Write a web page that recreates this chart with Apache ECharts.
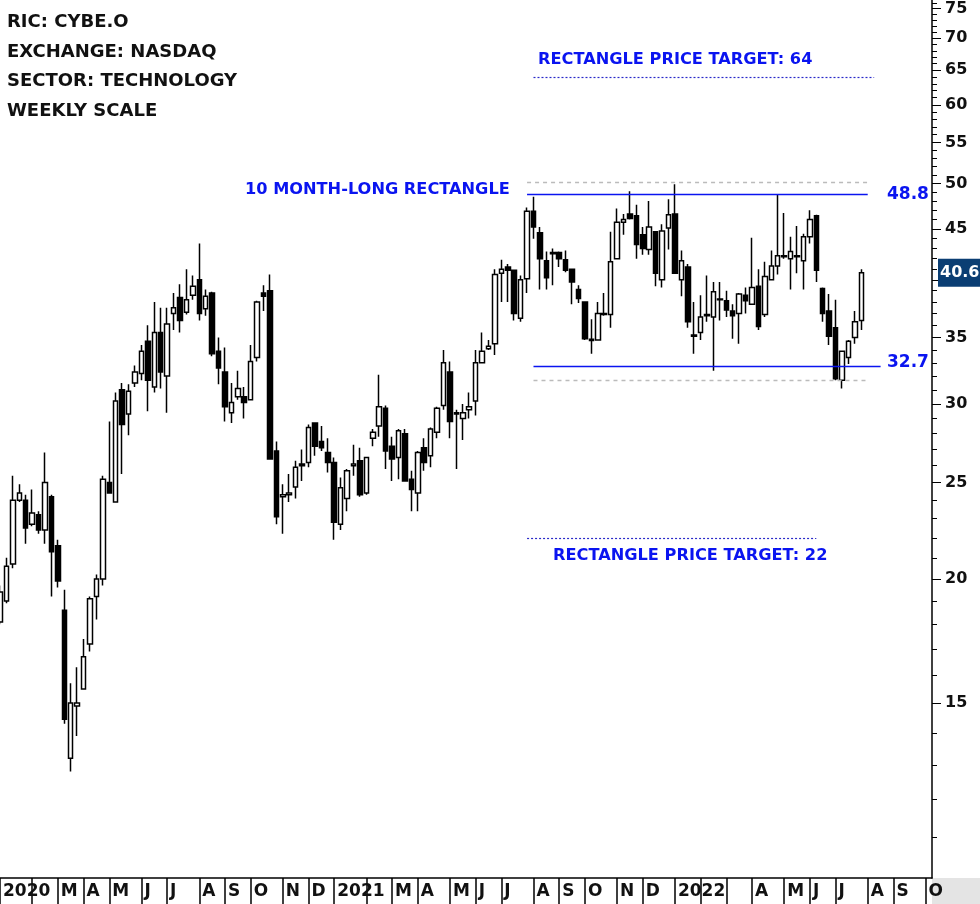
<!DOCTYPE html>
<html>
<head>
<meta charset="utf-8">
<script src="https://cdn.jsdelivr.net/npm/echarts@6/dist/echarts.min.js"></script>
<style>html,body{margin:0;padding:0;background:#fff}#main{width:980px;height:904px}</style>
</head>
<body>
<div id="main"></div>
<script>
// weekly candles, Jan 3 2020 .. Jul 29 2022
var opens = [18.1,19.0,20.7,24.0,24.0,22.7,23.2,22.4,24.2,21.6,
  18.6,13.2,14.9,15.5,17.2,19.2,20.0,25.0,23.9,31.0,
  29.3,31.5,32.2,34.7,31.2,35.4,32.0,37.0,38.4,37.1,
  38.6,40.0,37.4,38.8,33.9,32.3,29.4,30.5,30.5,30.3,
  33.4,38.8,39.0,26.9,24.2,24.3,24.75,26.1,26.2,28.7,
  27.5,26.8,26.2,22.7,24.1,26.0,26.3,24.4,27.7,28.5,
  29.7,27.2,26.5,28.0,25.2,24.4,27.1,26.6,28.1,29.9,
  32.3,29.3,29.0,29.6,30.2,33.0,34.1,34.5,40.6,41.2,
  40.9,36.6,40.1,46.9,44.6,41.8,42.6,42.6,41.9,41.0,
  39.1,38.0,34.85,34.8,36.9,36.9,42.0,45.7,46.6,46.4,
  44.4,42.9,44.7,40.0,45.1,46.6,40.0,41.2,35.2,35.4,
  36.9,36.7,38.2,38.1,37.2,37.0,38.6,37.8,39.4,36.9,
  40.0,41.3,42.3,42.0,42.3,41.8,44.2,46.4,39.2,37.2,
  35.8,31.7,33.4,35.0,36.4];
var closes = [19.4,20.6,24.0,24.4,22.5,23.3,22.4,25.0,21.3,19.9,
  14.45,15.0,15.0,16.7,19.1,20.0,25.2,24.4,30.2,28.6,
  30.9,32.3,33.9,31.7,35.4,32.3,36.1,37.5,36.4,38.2,
  39.4,37.0,38.5,33.7,32.6,29.8,30.1,31.1,30.1,33.1,
  38.0,38.5,26.4,23.1,24.3,24.4,25.9,26.0,28.4,27.2,
  27.1,26.2,22.8,24.7,25.7,26.1,24.3,26.5,28.1,29.8,
  26.9,26.4,28.2,25.1,24.6,26.8,26.2,28.3,29.7,33.0,
  28.8,29.4,29.4,29.8,33.0,33.9,34.3,40.5,41.0,40.9,
  37.0,40.0,46.9,45.2,42.0,40.2,42.5,42.0,40.9,39.8,
  38.3,34.9,34.75,37.0,37.0,41.7,45.7,46.0,46.1,43.4,
  43.0,45.2,40.6,44.8,46.5,40.6,41.8,36.3,35.1,36.7,
  36.8,38.9,38.25,37.3,36.8,38.7,38.1,39.3,35.9,40.3,
  41.3,42.3,42.2,42.7,42.2,44.2,46.0,40.9,37.0,35.1,
  31.8,33.9,34.7,36.3,40.67];
var lows = [18.0,18.9,20.5,23.9,21.7,22.6,22.2,21.7,19.2,19.6,
  14.3,12.8,13.9,15.5,16.9,18.2,19.7,24.4,23.9,25.5,
  27.9,31.2,31.7,29.5,30.8,31.1,29.4,35.6,35.4,36.9,
  38.2,36.4,36.8,33.5,31.4,28.8,28.7,30.3,29.0,30.3,
  33.1,37.2,26.4,22.7,22.2,23.9,24.1,25.1,25.9,26.6,
  26.9,25.6,21.9,22.4,23.4,25.4,24.2,24.3,27.2,27.8,
  25.8,25.1,25.2,25.1,23.4,23.4,25.7,25.9,27.7,29.6,
  27.7,25.8,27.6,29.0,29.2,33.0,34.0,33.6,38.0,38.0,
  36.4,36.3,38.8,44.0,39.1,39.1,39.5,41.2,40.7,37.8,
  37.9,34.8,33.7,34.8,36.8,35.8,42.0,44.4,46.0,42.0,
  42.4,42.4,39.4,39.3,42.9,40.6,38.5,35.8,33.7,34.8,
  36.3,32.4,36.4,36.7,34.9,34.5,37.0,37.8,35.6,36.7,
  40.0,40.5,42.0,39.1,40.6,39.1,43.5,39.8,36.3,34.4,
  31.7,31.1,32.9,34.5,35.6];
var highs = [19.7,21.0,25.4,24.9,24.3,24.6,23.4,26.8,24.3,21.9,
  19.5,15.7,16.3,17.4,19.2,20.2,25.4,28.8,30.8,31.5,
  31.4,32.8,34.4,36.0,38.0,37.5,37.5,38.8,39.6,41.0,
  40.4,43.5,39.1,38.9,35.0,34.2,31.5,32.4,31.2,34.4,
  38.1,39.5,40.5,27.5,24.9,25.5,26.3,27.0,28.6,28.7,
  28.5,27.7,26.5,25.3,25.8,27.3,27.1,26.5,28.3,32.1,
  29.9,27.8,28.3,28.3,25.7,26.9,27.7,28.4,29.8,34.0,
  33.1,29.6,30.0,30.8,34.0,35.4,34.8,41.0,41.9,41.5,
  40.9,40.4,47.3,48.5,45.2,42.7,43.0,42.7,42.8,41.0,
  39.5,38.0,36.5,38.0,38.8,44.7,47.2,46.6,49.1,47.6,
  45.2,48.0,44.7,45.5,48.2,49.9,42.8,41.5,38.0,38.6,
  40.4,39.8,39.8,39.0,37.8,38.8,39.3,44.1,41.0,41.7,
  42.8,48.8,46.7,44.2,45.3,44.5,47.0,46.5,39.3,38.7,
  38.2,33.9,34.8,37.2,41.0];
var lastPrice = 40.67;
var rectTop = 48.8, rectBottom = 32.7;
var targetUp = 64, targetDown = 22;
var rectTopOuter = 50.2, rectBottomOuter = 31.7;
var majorTicks = [15,20,25,30,35,40,45,50,55,60,65,70,75];
var monthNames = ['J','F','M','A','M','J','J','A','S','O','N','D'];

// weekly category dates through mid Oct 2022
var weeks = [];
var d = new Date(Date.UTC(2020, 0, 3));
for (var i = 0; i < 146; i++) {
  weeks.push(d.toISOString().slice(0, 10));
  d = new Date(d.getTime() + 7 * 86400000);
}
var monthStart = weeks.map(function (w, i) {
  return i === 0 || w.slice(5, 7) !== weeks[i - 1].slice(5, 7);
});
function monthLabel(w) {
  var m = +w.slice(5, 7) - 1;
  if (m === 0) return w.slice(0, 4);
  if (m === 1) return '';
  if (w.slice(0, 7) === '2022-03') return '';
  return monthNames[m];
}
var allTicks = [];
for (var v = 11; v <= 76; v++) allTicks.push(v);

var candles = opens.map(function (o, i) { return [o, closes[i], lows[i], highs[i]]; });

var blue = '#0a14f0';
var font = 'DejaVu Sans';
var logAxis = { type: 'log', logBase: 10, min: 10, max: 76.5, position: 'right', splitLine: { show: false } };
var myChart = echarts.init(document.getElementById('main'));
var option = {
  backgroundColor: '#fff',
  animation: false,
  grid: { left: 0, right: 48, top: 0, bottom: 26, outerBoundsMode: 'none', containLabel: false },
  xAxis: {
    type: 'category',
    data: weeks,
    boundaryGap: false,
    axisLine: { lineStyle: { color: '#000', width: 1.5 } },
    axisTick: {
      interval: function (i) { return monthStart[i]; },
      length: 26,
      lineStyle: { color: '#000', width: 1.5 }
    },
    axisLabel: {
      interval: function (i) { return monthStart[i]; },
      formatter: function (w) { return monthLabel(w); },
      align: 'left',
      margin: 5,
      padding: [0, 0, 0, 3],
      color: '#111',
      fontFamily: font,
      fontWeight: 'bold',
      fontSize: 17
    },
    splitLine: { show: false }
  },
  yAxis: [
    Object.assign({}, logAxis, {
      axisLine: { show: true, lineStyle: { color: '#000', width: 1.5 } },
      axisTick: { show: true, customValues: allTicks, length: 5, lineStyle: { color: '#000' } },
      axisLabel: {
        customValues: majorTicks,
        margin: 13,
        color: '#111',
        fontFamily: font,
        fontWeight: 'bold',
        fontSize: 16
      }
    }),
    Object.assign({}, logAxis, {
      axisLine: { show: false },
      axisTick: { show: true, customValues: majorTicks, length: 9, lineStyle: { color: '#000' } },
      axisLabel: { show: false }
    }),
    Object.assign({}, logAxis, {
      axisLine: { show: false },
      axisTick: { show: false },
      axisLabel: {
        show: true, customValues: [lastPrice], margin: 6,
        formatter: function (v) { return v.toFixed(2); },
        backgroundColor: '#0b3e73', color: '#fff', fontFamily: font, fontWeight: 'bold',
        fontSize: 16, padding: [6, 6, 6, 2]
      }
    })
  ],
  series: [{
    type: 'candlestick',
    data: candles,
    barWidth: 5,
    itemStyle: {
      color: '#fff',
      color0: '#000',
      borderColor: '#000',
      borderColor0: '#000',
      borderWidth: 1.5
    },
    markLine: {
      silent: true,
      symbol: 'none',
      label: { show: false },
      data: [
        [{ coord: [82, rectTop], lineStyle: { color: blue, width: 1.3, type: 'solid' } }, { coord: [135, rectTop] }],
        [{ coord: [83, rectBottom], lineStyle: { color: blue, width: 1.3, type: 'solid' } }, { coord: [137, rectBottom] }],
        [{ coord: [82, rectTopOuter], lineStyle: { color: '#bbb', width: 1.3, type: [4, 4] } }, { coord: [135, rectTopOuter] }],
        [{ coord: [83, rectBottomOuter], lineStyle: { color: '#bbb', width: 1.3, type: [4, 4] } }, { coord: [135, rectBottomOuter] }],
        [{ coord: [83, targetUp], lineStyle: { color: '#2a2ac8', width: 1.2, type: [2, 2] } }, { coord: [136, targetUp] }],
        [{ coord: [82, targetDown], lineStyle: { color: '#2a2ac8', width: 1.2, type: [2, 2] } }, { coord: [127, targetDown] }]
      ]
    }
  }],
  graphic: [
    { type: 'rect', left: 932, top: 878, shape: { width: 48, height: 26 }, style: { fill: '#e4e4e4' }, z: -1 },
    { type: 'text', left: 7, top: 8, style: { text: 'RIC: CYBE.O\nEXCHANGE: NASDAQ\nSECTOR: TECHNOLOGY\nWEEKLY SCALE', lineHeight: 29.5, fill: '#111', font: 'bold 18px "DejaVu Sans"' } },
    { type: 'text', left: 538, top: 52, style: { text: 'RECTANGLE PRICE TARGET: 64', fill: blue, font: 'bold 16.2px "DejaVu Sans"' } },
    { type: 'text', left: 245, top: 182, style: { text: '10 MONTH-LONG RECTANGLE', fill: blue, font: 'bold 16.2px "DejaVu Sans"' } },
    { type: 'text', left: 553, top: 548, style: { text: 'RECTANGLE PRICE TARGET: 22', fill: blue, font: 'bold 16.2px "DejaVu Sans"' } },
    { type: 'text', left: 887, top: 186, style: { text: '48.8', fill: blue, font: 'bold 17px "DejaVu Sans"' } },
    { type: 'text', left: 887, top: 354, style: { text: '32.7', fill: blue, font: 'bold 17px "DejaVu Sans"' } }
  ]
};
myChart.setOption(option);
</script>
</body>
</html>
